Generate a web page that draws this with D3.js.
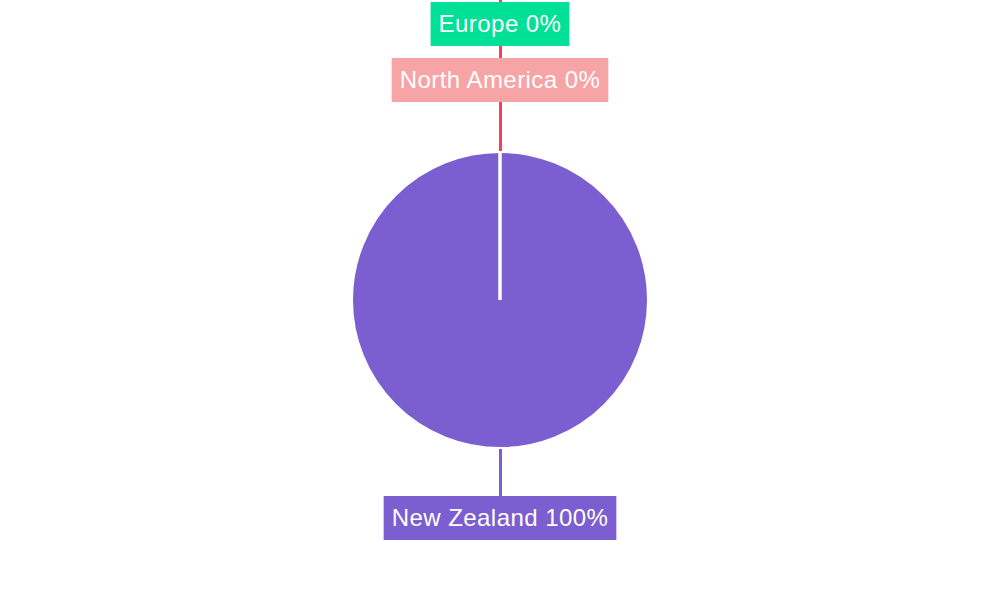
<!DOCTYPE html>
<html><head><meta charset="utf-8">
<script src="https://cdn.jsdelivr.net/npm/d3@7"></script>
<style>body{margin:0;background:#fff;}svg{display:block;}</style>
</head><body>
<svg id="c" width="1000" height="600"></svg>
<script>
const categories = ["New Zealand", "North America", "Europe"];
const values = [100, 0, 0];
const sliceColors = ["#7b5ecf", "#f53f5d", "#00e096"];
const labelColors = ["#7b5ecf", "#f7a4a6", "#00e096"];

(function () {
const W = 1000, H = 600, cx = 500, cy = 300, R = 148.5;
const svg = d3.select("#c");
const g = svg.append("g").attr("transform", `translate(${cx},${cy})`);
const data = categories.map((c, i) => ({name: c, value: values[i], color: sliceColors[i], lcolor: labelColors[i]}));
const total = d3.sum(values);
const pie = d3.pie().value(d => d.value).sort(null);
const arcs = pie(data);
const arc = d3.arc().innerRadius(0).outerRadius(R);

g.selectAll("path.s").data(arcs).join("path").attr("class", "s")
  .attr("d", arc).attr("fill", d => d.data.color)
  .attr("stroke", "#fff").attr("stroke-width", 3).attr("stroke-linejoin", "miter");

const boxH = 44, offTop = 51, offBot = 49, gapY = 12, fontSize = 24;
const mid = d => ((d.startAngle + d.endAngle) / 2) % (2 * Math.PI);
const topArcs = arcs.filter(d => Math.cos(mid(d)) >= 0);
const bottomArcs = arcs.filter(d => Math.cos(mid(d)) < 0);
topArcs.forEach((d, i) => { d.ly = -147 - offTop - boxH / 2 - i * (boxH + gapY); });
bottomArcs.forEach((d, i) => { d.ly = 147 + offBot + boxH / 2 + i * (boxH + gapY); });

const order = [...bottomArcs, ...topArcs.slice().reverse()];
g.selectAll("line.l").data(order).join("line").attr("class", "l")
  .attr("x1", d => (R + 0.5) * Math.sin(mid(d)))
  .attr("y1", d => -(R + 0.5) * Math.cos(mid(d)))
  .attr("x2", d => (R + 0.5) * Math.sin(mid(d)))
  .attr("y2", d => d.ly < 0 ? -cy : d.ly)
  .attr("stroke", d => d.data.color).attr("stroke-width", 3)
  .attr("shape-rendering", "crispEdges");

const lab = g.selectAll("g.lab").data(order).join("g").attr("class", "lab");
lab.each(function(d) {
  const sel = d3.select(this);
  const pct = Math.round(d.data.value / total * 100);
  const t = sel.append("text").text(`${d.data.name} ${pct}%`)
    .attr("x", 0).attr("y", d.ly).attr("dy", "0.35em")
    .attr("text-anchor", "middle").attr("fill", "#fff")
    .attr("font-family", "Liberation Sans, Arial, sans-serif")
    .attr("font-size", fontSize).attr("letter-spacing", "0.45px");
  const w = t.node().getComputedTextLength();
  sel.insert("rect", "text").attr("x", -w / 2 - 8).attr("y", d.ly - boxH / 2)
    .attr("width", w + 16).attr("height", boxH).attr("fill", d.data.lcolor);
});
})();
</script>
</body></html>
